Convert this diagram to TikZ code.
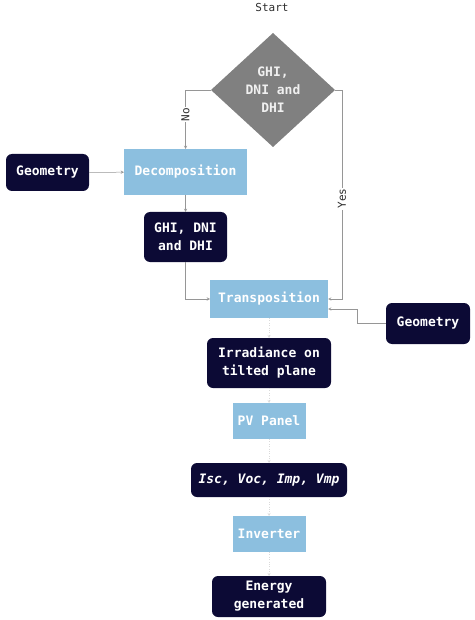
\documentclass[tikz,border=0pt]{standalone}
\usepackage{fontspec}
\setmonofont{DejaVu Sans Mono}
\usetikzlibrary{positioning,arrows,shapes.geometric}
\definecolor{colornavy}  {RGB}{12 ,10 ,53 }
\definecolor{colorblue}  {RGB}{140,191,223}
\definecolor{colorgrey}  {RGB}{128,128,128}
\definecolor{colorline}  {RGB}{150,150,150}
\definecolor{colortext}  {RGB}{45 ,45 ,45 }

\begin{document}
\begin{tikzpicture}[
    x=1pt, y=-1pt,
    node distance = 20pt,
    base/.style={text=white,font={\ttfamily\bfseries\fontsize{13}{18}\selectfont},align=center,inner sep=0pt,outer sep=0pt},
    darkbox/.style={base,rectangle,rounded corners=6pt,fill=colornavy},
    lightbox/.style={base,rectangle,fill=colorblue},
    decision/.style={base,diamond,fill=colorgrey,text=white!94!black,minimum width=124pt,minimum height=114pt},
    txt/.style={text=colortext,font={\ttfamily\fontsize{11}{13}\selectfont},inner sep=1pt},
    link/.style={draw=colorline,line width=0.5pt,-stealth},
    faint/.style={draw=colorline!35,line width=0.4pt,dotted,-stealth},
]
    \useasboundingbox (0,0) rectangle (474,620);

    % Start and decision
    \node[txt] (start) at (272,8) {Start};
    \node[decision] (check) at (273,90) {GHI,\\DNI and\\DHI};

    % Decomposition branch
    \node[lightbox,minimum width=123pt,minimum height=46pt] (decomp) at (185.5,172) {Decomposition};
    \node[darkbox,minimum width=83pt,minimum height=37pt] (geoleft) at (47.5,172.5) {Geometry};
    \node[darkbox,minimum width=83pt,minimum height=50pt] (ghi) at (185.5,237) {GHI, DNI\\and DHI};

    % Transposition
    \node[lightbox,minimum width=118pt,minimum height=38pt] (transp) at (269,299) {Transposition};
    \node[darkbox,minimum width=84pt,minimum height=41pt] (georight) at (428,323.5) {Geometry};

    % Output chain
    \node[darkbox,minimum width=124pt,minimum height=50pt,below=20pt of transp] (irrad) {Irradiance on\\tilted plane};
    \node[lightbox,minimum width=73pt,minimum height=36pt,below=15pt of irrad] (panel) {PV Panel};
    \node[darkbox,minimum width=156pt,minimum height=34pt,below=24pt of panel] (params) {\itshape Isc, Voc, Imp, Vmp};
    \node[lightbox,minimum width=73pt,minimum height=36pt,below=19pt of params] (inverter) {Inverter};
    \node[darkbox,minimum width=114pt,minimum height=41pt,below=24pt of inverter] (energy) {Energy\\generated};

    % Arrows
    \draw[link] (check.west) -| (decomp.north) node[txt,pos=0.71,fill=white,rotate=90] {No};
    \draw[link] (check.east) -- ++(7,0) |- (transp.east) node[txt,pos=0.26,fill=white,rotate=90] {Yes};
    \draw[link] (geoleft) -- (decomp);
    \draw[link] (decomp) -- (ghi);
    \draw[link] (ghi.south) |- (transp.west);
    \draw[link] (georight.west) -- ++(-29,0) |- ([yshift=-10pt]transp.east);
    \draw[faint] (transp) -- (irrad);
    \draw[faint] (irrad) -- (panel);
    \draw[faint] (panel) -- (params);
    \draw[faint] (params) -- (inverter);
    \draw[faint] (inverter) -- (energy);

\end{tikzpicture}
\end{document}
